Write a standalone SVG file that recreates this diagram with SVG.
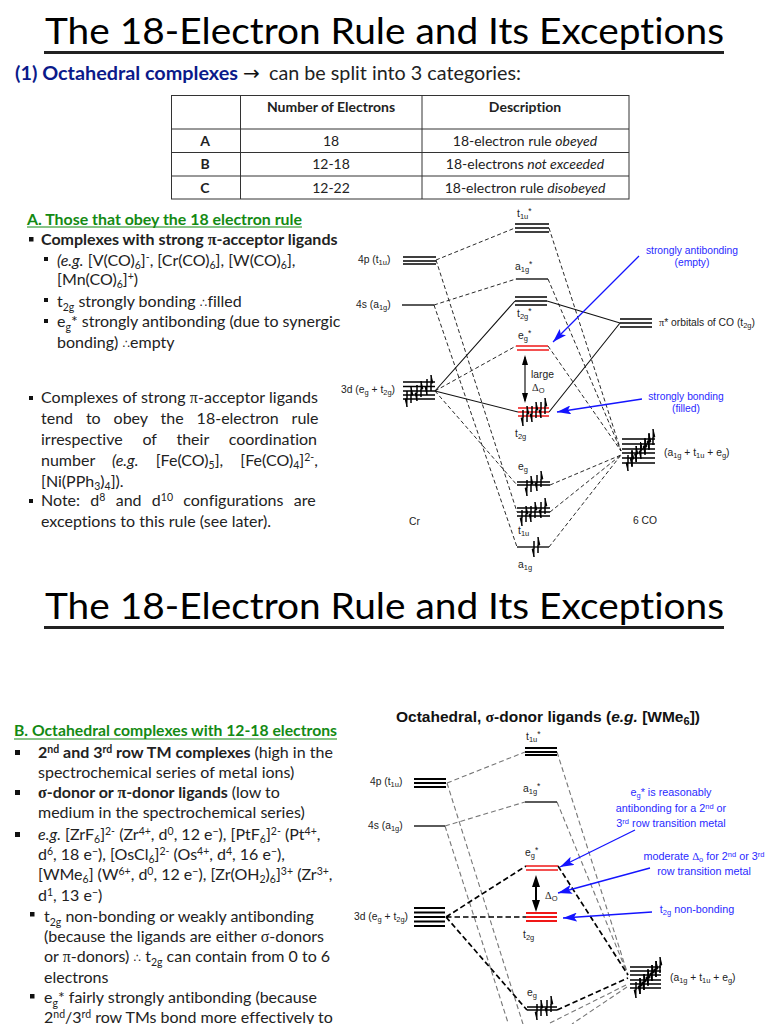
<svg xmlns="http://www.w3.org/2000/svg" width="768" height="1024" viewBox="0 0 768 1024">
<style>
text{font-family:Lato,"Liberation Sans",sans-serif;fill:#1a1a1a;font-variant-ligatures:none}
.title{font-size:37.6px;fill:#000}
.body{font-size:16px;fill:#222}
.b{font-weight:700}
.i{font-style:italic}
.green{font-weight:700;font-size:16px;fill:#138a13}
.head{font-size:14px;font-weight:700;fill:#222;text-anchor:middle}
.cell{font-size:14px;fill:#222;text-anchor:middle}
.lab{font-family:"Liberation Sans",Arial,sans-serif;font-size:10.300px;fill:#222}
.blue{font-family:"Liberation Sans",Arial,sans-serif;font-size:10.300px;fill:#2a2aff;text-anchor:middle}
.blue2{font-family:"Liberation Sans",Arial,sans-serif;font-size:10.800px;fill:#2a2aff;text-anchor:middle}
.sy{font-family:"Liberation Serif",serif}
.lv{stroke:#000;stroke-width:1.3;fill:none}
.lvk{stroke:#000;stroke-width:1.8;fill:none}
.red{stroke:#f01818;stroke-width:1.4;fill:none}
.sol{stroke:#111;stroke-width:1.1;fill:none}
.da{stroke:#111;stroke-width:.9;stroke-dasharray:4 2.6;fill:none}
.dg{stroke:#777;stroke-width:1.1;stroke-dasharray:5 3;fill:none}
.dk{stroke:#000;stroke-width:1.7;stroke-dasharray:5.5 3;fill:none}
.ba{stroke:#1414ff;stroke-width:1.3;fill:none;marker-end:url(#bh)}
.cellb{fill:none;stroke:#333;stroke-width:1}
.sq{fill:#111}
</style>
<defs>
<marker id="bh" viewBox="0 0 14 9" refX="14" refY="4.500" markerWidth="14" markerHeight="9" markerUnits="userSpaceOnUse" orient="auto"><path d="M0 0L14 4.500 0 9 3 4.500Z" fill="#1414ff"/></marker>
<path id="p" d="M0-6V10L-1.800 2H0ZM4 6V-10L5.800 -2H4Z" fill="#000" stroke="#000" stroke-width="1"/>
</defs>

<g id="title-1">
<text class="title" x="45" y="44" textLength="679" lengthAdjust="spacingAndGlyphs">The 18-Electron Rule and Its Exceptions</text>
<rect x="44" y="51" width="680" height="3" fill="#222"/>
</g>
<g id="heading-1">
<text x="15" y="80" font-size="19" font-weight="700" style="fill:#0b1a8a" textLength="223" lengthAdjust="spacingAndGlyphs">(1) Octahedral complexes</text>
<text x="243" y="80" font-size="20" style="font-family:'DejaVu Sans',sans-serif;fill:#111">→</text>
<text x="269" y="80" font-size="19" style="fill:#222" textLength="252" lengthAdjust="spacingAndGlyphs">can be split into 3 categories:</text>
</g>
<g id="table-1">
<rect class="cellb" x="171.500" y="95.500" width="457.500" height="103.500"/>
<path class="cellb" d="M240.500 95.500V199M422 95.500V199M171.500 129H629M171.500 152.500H629M171.500 176H629"/>
<text class="head" x="331" y="112">Number of Electrons</text>
<text class="head" x="525" y="112">Description</text>
<text class="cell b" x="205" y="146">A</text><text class="cell" x="331" y="146">18</text>
<text class="cell" x="525" y="146">18-electron rule <tspan class="i">obeyed</tspan></text>
<text class="cell b" x="205" y="169">B</text><text class="cell" x="331" y="169">12-18</text>
<text class="cell" x="525" y="169">18-electrons <tspan class="i">not exceeded</tspan></text>
<text class="cell b" x="205" y="193">C</text><text class="cell" x="331" y="193">12-22</text>
<text class="cell" x="525" y="193">18-electron rule <tspan class="i">disobeyed</tspan></text>
</g>

<g id="text-a">
<text class="green" x="27" y="225" textLength="275" lengthAdjust="spacingAndGlyphs">A. Those that obey the 18 electron rule</text>
<rect x="27" y="226.500" width="275" height="1" fill="#138a13"/>
<rect class="sq" x="29" y="237" width="4.500" height="4.500"/>
<text class="body b" x="41" y="245">Complexes with strong <tspan class="sy">π</tspan>-acceptor ligands</text>
<rect class="sq" x="44" y="257" width="4" height="4"/>
<text class="body" x="57" y="266"><tspan class="i">(e.g.</tspan> [V(CO)<tspan dy="3" font-size="10.500">6</tspan><tspan dy="-3">]</tspan><tspan dy="-5" font-size="10.500">-</tspan><tspan dy="5">, [Cr(CO)</tspan><tspan dy="3" font-size="10.500">6</tspan><tspan dy="-3">], [W(CO)</tspan><tspan dy="3" font-size="10.500">6</tspan><tspan dy="-3">],</tspan></text>
<text class="body" x="57" y="285">[Mn(CO)<tspan dy="3" font-size="10.500">6</tspan><tspan dy="-3">]</tspan><tspan dy="-5" font-size="10.500">+</tspan><tspan dy="5">)</tspan></text>
<rect class="sq" x="44" y="298" width="4" height="4"/>
<text class="body" x="57" y="307">t<tspan dy="4" font-size="10.500">2g</tspan><tspan dy="-4"> strongly bonding </tspan><tspan style="font-family:'DejaVu Sans'" font-size="12">∴</tspan><tspan>filled</tspan></text>
<rect class="sq" x="44" y="319" width="4" height="4"/>
<text class="body" x="57" y="327">e<tspan dy="4" font-size="10.500">g</tspan><tspan dy="-4">* strongly antibonding (due to synergic</tspan></text>
<text class="body" x="57" y="348">bonding) <tspan style="font-family:'DejaVu Sans'" font-size="12">∴</tspan>empty</text>
<rect class="sq" x="29" y="396" width="4" height="4"/>
<text class="body" x="41" y="403" textLength="277">Complexes of strong <tspan class="sy">π</tspan>-acceptor ligands</text>
<text class="body" x="41" y="424" word-spacing="8.800">tend to obey the 18-electron rule</text>
<text class="body" x="41" y="445" word-spacing="15.700">irrespective of their coordination</text>
<text class="body" x="41" y="466" word-spacing="13"><tspan>number</tspan> <tspan class="i">(e.g.</tspan> [Fe(CO)<tspan dy="3" font-size="10.500">5</tspan><tspan dy="-3">], [Fe(CO)</tspan><tspan dy="3" font-size="10.500">4</tspan><tspan dy="-3">]</tspan><tspan dy="-5" font-size="10.500">2-</tspan><tspan dy="5">,</tspan></text>
<text class="body" x="41" y="487">[Ni(PPh<tspan dy="3" font-size="10.500">3</tspan><tspan dy="-3">)</tspan><tspan dy="3" font-size="10.500">4</tspan><tspan dy="-3">]).</tspan></text>
<rect class="sq" x="29" y="499" width="4" height="4"/>
<text class="body" x="41" y="506" word-spacing="6.200">Note: d<tspan dy="-5" font-size="10.500">8</tspan><tspan dy="5"> and d</tspan><tspan dy="-5" font-size="10.500">10</tspan><tspan dy="5"> configurations are</tspan></text>
<text class="body" x="41" y="527">exceptions to this rule (see later).</text>
</g>

<g id="connectors-1">
<path class="da" d="M436 260L515 228M434 305L516 279M435 391L516 346"/>
<path class="sol" d="M435 391L515 301M435 391L518 412M547 301L620 323M549 412L620 323"/>
<path class="da" d="M436 260L517 512M434 305L517 547M435 391L517 485"/>
<path class="da" d="M549 228L621 451M548 279L621 451M548 346L621 451M550 485L621 455M550 512L621 455M549 547L621 455"/>
</g>
<g id="levels-1">
<path class="lv" d="M515 224H549M515 228H549M515 232H549"/>
<path class="lv" d="M403 257H436M403 261H436M403 264H436"/>
<path class="lv" d="M402 305H434"/>
<path class="lv" d="M516 279H548"/>
<path class="lv" d="M515 297H547M515 301H547M515 305H547"/>
<path class="red" d="M516 346H548M517 350H549"/>
<path class="lv" d="M620 319H652M620 323H652M620 327H652"/>
<path class="lv" d="M403 382H435M403 386.500H435M403 391H435M403 395H435M403 399H435"/>
<path class="red" d="M518 408H549M518 412H549M518 416H549"/>
<path class="lv" d="M517 482H550M517 485H550"/>
<path class="lv" d="M517 508H550M517 512H550M517 516H550"/>
<path class="lv" d="M517 547H549"/>
<path class="lv" d="M622 439H655M622 444H655M622 449H655M622 453H655M622 458H655M622 463H655"/>
</g>
<g id="electrons-1">
<use href="#p" x="407" y="397"/><use href="#p" x="417" y="391"/><use href="#p" x="427" y="385"/>
<use href="#p" x="523" y="416"/><use href="#p" x="532" y="412"/><use href="#p" x="541" y="408"/>
<use href="#p" x="527" y="486"/><use href="#p" x="537" y="481"/>
<use href="#p" x="522" y="516"/><use href="#p" x="531" y="512"/><use href="#p" x="541" y="508"/>
<use href="#p" x="534" y="547"/>
<use href="#p" x="628" y="461"/><use href="#p" x="632" y="456"/><use href="#p" x="636.500" y="452"/><use href="#p" x="641" y="449"/><use href="#p" x="645" y="444"/><use href="#p" x="649" y="439"/>
</g>
<g id="labels-1">
<text class="lab" x="517" y="217">t<tspan dy="2" font-size="7.500">1u</tspan><tspan dy="-5" font-size="8.500">*</tspan></text>
<text class="lab" x="358" y="263">4p (t<tspan dy="2" font-size="7.500">1u</tspan><tspan dy="-2">)</tspan></text>
<text class="lab" x="356" y="308">4s (a<tspan dy="2" font-size="7.500">1g</tspan><tspan dy="-2">)</tspan></text>
<text class="lab" x="515" y="270">a<tspan dy="2" font-size="7.500">1g</tspan><tspan dy="-5" font-size="8.500">*</tspan></text>
<text class="lab" x="517" y="317">t<tspan dy="2" font-size="7.500">2g</tspan><tspan dy="-5" font-size="8.500">*</tspan></text>
<text class="lab" x="518" y="339">e<tspan dy="2" font-size="7.500">g</tspan><tspan dy="-5" font-size="8.500">*</tspan></text>
<text class="lab" x="659" y="326"><tspan class="sy">π</tspan>* orbitals of CO (t<tspan dy="2" font-size="7.500">2g</tspan><tspan dy="-2">)</tspan></text>
<text class="lab" x="341" y="393">3d (e<tspan dy="2" font-size="7.500">g</tspan><tspan dy="-2"> + t</tspan><tspan dy="2" font-size="7.500">2g</tspan><tspan dy="-2">)</tspan></text>
<text class="lab" x="531" y="378">large</text>
<text class="lab" x="532" y="391"><tspan class="sy">Δ</tspan><tspan dy="2" font-size="7.500">O</tspan></text>
<text class="lab" x="515" y="437">t<tspan dy="2" font-size="7.500">2g</tspan></text>
<text class="lab" x="518" y="470">e<tspan dy="2" font-size="7.500">g</tspan></text>
<text class="lab" x="518" y="534">t<tspan dy="2" font-size="7.500">1u</tspan></text>
<text class="lab" x="518" y="568">a<tspan dy="2" font-size="7.500">1g</tspan></text>
<text class="lab" x="664" y="456">(a<tspan dy="2" font-size="7.500">1g</tspan><tspan dy="-2"> + t</tspan><tspan dy="2" font-size="7.500">1u</tspan><tspan dy="-2"> + e</tspan><tspan dy="2" font-size="7.500">g</tspan><tspan dy="-2">)</tspan></text>
<text class="lab" x="409" y="525">Cr</text>
<text class="lab" x="633" y="524">6 CO</text>
<text class="blue" x="692" y="254">strongly antibonding</text>
<text class="blue" x="692" y="266">(empty)</text>
<text class="blue" x="686" y="400">strongly bonding</text>
<text class="blue" x="686" y="412">(filled)</text>
</g>
<g id="arrows-1">
<path class="ba" d="M639 256L553 342"/>
<path class="ba" d="M642 399L557 412"/>
<path d="M525 357V401" stroke="#000" stroke-width="1.100" fill="none"/>
<path d="M525 355L528 365H522ZM525 403L528 393H522Z" fill="#000"/>
</g>

<g id="title-2">
<text class="title" x="45" y="619" textLength="679" lengthAdjust="spacingAndGlyphs">The 18-Electron Rule and Its Exceptions</text>
<rect x="44" y="626" width="680" height="3" fill="#222"/>
</g>
<g id="text-b">
<text class="green" x="14" y="736" textLength="323" lengthAdjust="spacingAndGlyphs">B. Octahedral complexes with 12-18 electrons</text>
<rect x="14" y="738.500" width="323" height="1" fill="#138a13"/>
<rect class="sq" x="15" y="750" width="5" height="5"/>
<text class="body" x="38" y="758"><tspan class="b">2</tspan><tspan class="b" dy="-5" font-size="10.500">nd</tspan><tspan class="b" dy="5"> and 3</tspan><tspan class="b" dy="-5" font-size="10.500">rd</tspan><tspan class="b" dy="5"> row TM complexes </tspan>(high in the</text>
<text class="body" x="38" y="778">spectrochemical series of metal ions)</text>
<rect class="sq" x="15" y="790" width="5" height="5"/>
<text class="body" x="38" y="798"><tspan class="b sy">σ</tspan><tspan class="b">-donor or </tspan><tspan class="b sy">π</tspan><tspan class="b">-donor ligands </tspan>(low to</text>
<text class="body" x="38" y="818">medium in the spectrochemical series)</text>
<rect class="sq" x="15" y="832" width="5" height="5"/>
<text class="body" x="38" y="840"><tspan class="i">e.g.</tspan> [ZrF<tspan dy="3" font-size="10.500">6</tspan><tspan dy="-3">]</tspan><tspan dy="-5" font-size="10.500">2-</tspan><tspan dy="5"> (Zr</tspan><tspan dy="-5" font-size="10.500">4+</tspan><tspan dy="5">, d</tspan><tspan dy="-5" font-size="10.500">0</tspan><tspan dy="5">, 12 e</tspan><tspan dy="-5" font-size="10.500">−</tspan><tspan dy="5">), [PtF</tspan><tspan dy="3" font-size="10.500">6</tspan><tspan dy="-3">]</tspan><tspan dy="-5" font-size="10.500">2-</tspan><tspan dy="5"> (Pt</tspan><tspan dy="-5" font-size="10.500">4+</tspan><tspan dy="5">,</tspan></text>
<text class="body" x="38" y="860">d<tspan dy="-5" font-size="10.500">6</tspan><tspan dy="5">, 18 e</tspan><tspan dy="-5" font-size="10.500">−</tspan><tspan dy="5">), [OsCl</tspan><tspan dy="3" font-size="10.500">6</tspan><tspan dy="-3">]</tspan><tspan dy="-5" font-size="10.500">2-</tspan><tspan dy="5"> (Os</tspan><tspan dy="-5" font-size="10.500">4+</tspan><tspan dy="5">, d</tspan><tspan dy="-5" font-size="10.500">4</tspan><tspan dy="5">, 16 e</tspan><tspan dy="-5" font-size="10.500">−</tspan><tspan dy="5">),</tspan></text>
<text class="body" x="38" y="880">[WMe<tspan dy="3" font-size="10.500">6</tspan><tspan dy="-3">] (W</tspan><tspan dy="-5" font-size="10.500">6+</tspan><tspan dy="5">, d</tspan><tspan dy="-5" font-size="10.500">0</tspan><tspan dy="5">, 12 e</tspan><tspan dy="-5" font-size="10.500">−</tspan><tspan dy="5">), [Zr(OH</tspan><tspan dy="3" font-size="10.500">2</tspan><tspan dy="-3">)</tspan><tspan dy="3" font-size="10.500">6</tspan><tspan dy="-3">]</tspan><tspan dy="-5" font-size="10.500">3+</tspan><tspan dy="5"> (Zr</tspan><tspan dy="-5" font-size="10.500">3+</tspan><tspan dy="5">,</tspan></text>
<text class="body" x="38" y="901">d<tspan dy="-5" font-size="10.500">1</tspan><tspan dy="5">, 13 e</tspan><tspan dy="-5" font-size="10.500">−</tspan><tspan dy="5">)</tspan></text>
<rect class="sq" x="30" y="912" width="4.500" height="4.500"/>
<text class="body" x="44" y="922">t<tspan dy="4" font-size="10.500">2g</tspan><tspan dy="-4"> non-bonding or weakly antibonding</tspan></text>
<text class="body" x="44" y="942">(because the ligands are either <tspan class="sy">σ</tspan>-donors</text>
<text class="body" x="44" y="962">or <tspan class="sy">π</tspan>-donors) <tspan style="font-family:'DejaVu Sans'" font-size="12">∴</tspan> t<tspan dy="4" font-size="10.500">2g</tspan><tspan dy="-4"> can contain from 0 to 6</tspan></text>
<text class="body" x="44" y="983">electrons</text>
<rect class="sq" x="30" y="994" width="4.500" height="4.500"/>
<text class="body" x="44" y="1003">e<tspan dy="4" font-size="10.500">g</tspan><tspan dy="-4">* fairly strongly antibonding (because</tspan></text>
<text class="body" x="44" y="1023">2<tspan dy="-5" font-size="10.500">nd</tspan><tspan dy="5">/3</tspan><tspan dy="-5" font-size="10.500">rd</tspan><tspan dy="5"> row TMs bond more effectively to</tspan></text>
</g>

<g id="connectors-2">
<path class="dg" d="M447 783L525 752M445 826L525 802M447 783L528 1040M445 826L527 1082M557 752L628 975M557 802L628 975M626 985L548 1024M627 987L572 1024"/>
<path class="dk" d="M446 917L526 866M446 917H526M446 917L527 1010M558 866L628 975M557 1010L628 978"/>
</g>
<g id="levels-2">
<path class="lvk" d="M525 748H557M525 752H557M525 755H557"/>
<path class="lvk" d="M414 779H446M414 783H446M414 787H446"/>
<path class="lv" d="M414 826H445"/>
<path class="lv" d="M525 802H557"/>
<path class="red" d="M526 866H558M526 870H558"/>
<path class="lvk" d="M414 908H445M414 912.500H445M414 917H445M414 921.500H445M414 926H445"/>
<path class="red" style="stroke-width:1.800" d="M526 913H557M526 917H557M526 921H557"/>
<path class="lv" d="M527 1007H557M527 1010H557"/>
<path class="lv" d="M630 967H661M630 971H661M630 975H661M630 980H661M630 984H661M630 988H661"/>
</g>
<g id="electrons-2">
<use href="#p" x="537" y="1010"/><use href="#p" x="547" y="1006"/>
<use href="#p" x="636" y="988"/><use href="#p" x="640" y="984"/><use href="#p" x="644" y="980"/><use href="#p" x="648" y="975"/><use href="#p" x="652" y="971"/><use href="#p" x="656" y="967"/>
</g>
<g id="labels-2">
<text x="396" y="722" style="font-family:'Liberation Sans',Arial,sans-serif;font-weight:700;fill:#111" font-size="14" textLength="304" lengthAdjust="spacingAndGlyphs">Octahedral, <tspan class="sy">σ</tspan>-donor ligands (<tspan font-style="italic">e.g.</tspan> [WMe<tspan dy="3" font-size="10">6</tspan><tspan dy="-3">])</tspan></text>
<text class="lab" x="526" y="740">t<tspan dy="2" font-size="7.500">1u</tspan><tspan dy="-5" font-size="8.500">*</tspan></text>
<text class="lab" x="370" y="785">4p (t<tspan dy="2" font-size="7.500">1u</tspan><tspan dy="-2">)</tspan></text>
<text class="lab" x="368" y="829">4s (a<tspan dy="2" font-size="7.500">1g</tspan><tspan dy="-2">)</tspan></text>
<text class="lab" x="523" y="792">a<tspan dy="2" font-size="7.500">1g</tspan><tspan dy="-5" font-size="8.500">*</tspan></text>
<text class="lab" x="525" y="856">e<tspan dy="2" font-size="7.500">g</tspan><tspan dy="-5" font-size="8.500">*</tspan></text>
<text class="lab" x="354" y="920">3d (e<tspan dy="2" font-size="7.500">g</tspan><tspan dy="-2"> + t</tspan><tspan dy="2" font-size="7.500">2g</tspan><tspan dy="-2">)</tspan></text>
<text class="lab" x="545" y="899"><tspan class="sy">Δ</tspan><tspan dy="2" font-size="7.500">O</tspan></text>
<text class="lab" x="523" y="938">t<tspan dy="2" font-size="7.500">2g</tspan></text>
<text class="lab" x="527" y="996">e<tspan dy="2" font-size="7.500">g</tspan></text>
<text class="lab" x="670" y="981">(a<tspan dy="2" font-size="7.500">1g</tspan><tspan dy="-2"> + t</tspan><tspan dy="2" font-size="7.500">1u</tspan><tspan dy="-2"> + e</tspan><tspan dy="2" font-size="7.500">g</tspan><tspan dy="-2">)</tspan></text>
<text class="blue2" x="671" y="796">e<tspan dy="2" font-size="7.500">g</tspan><tspan dy="-2">* is reasonably</tspan></text>
<text class="blue2" x="671" y="812">antibonding for a 2<tspan dy="-3" font-size="7.500">nd</tspan><tspan dy="3"> or</tspan></text>
<text class="blue2" x="671" y="827">3<tspan dy="-3" font-size="7.500">rd</tspan><tspan dy="3"> row transition metal</tspan></text>
<text class="blue2" x="704" y="860">moderate <tspan class="sy">Δ</tspan><tspan dy="2" font-size="7.500">o</tspan><tspan dy="-2"> for 2</tspan><tspan dy="-3" font-size="7.500">nd</tspan><tspan dy="3"> or 3</tspan><tspan dy="-3" font-size="7.500">rd</tspan></text>
<text class="blue2" x="704" y="875">row transition metal</text>
<text class="blue2" x="697" y="913">t<tspan dy="2" font-size="7.500">2g</tspan><tspan dy="-2"> non-bonding</tspan></text>
</g>
<g id="arrows-2">
<path class="ba" d="M635 830L560 867"/>
<path class="ba" d="M650 868L558 893"/>
<path class="ba" d="M652 912L563 918"/>
<path d="M536 880V907" stroke="#000" stroke-width="2" fill="none"/>
<path d="M536 875L540 887H532ZM536 912L540 900H532Z" fill="#000"/>
</g>
</svg>
